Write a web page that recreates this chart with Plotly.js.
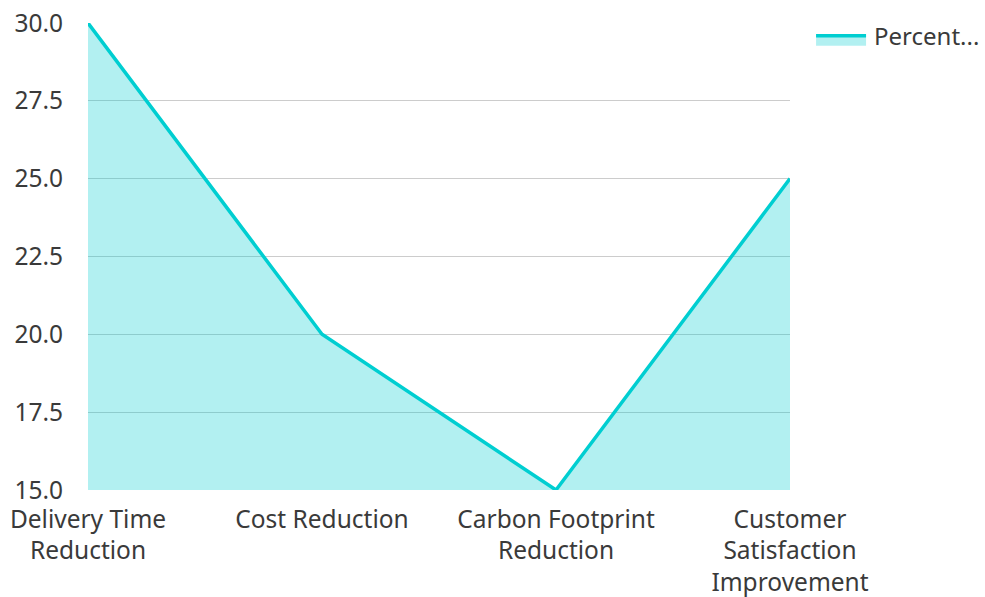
<!DOCTYPE html>
<html>
<head>
<meta charset="utf-8">
<script src="https://cdn.plot.ly/plotly-3.0.1.min.js"></script>
<style>html,body{margin:0;padding:0;background:#fff;}#chart{width:985px;height:597px;}</style>
</head>
<body>
<div id="chart"></div>
<script>
const categories = ["Delivery Time<br>Reduction", "Cost Reduction", "Carbon Footprint<br>Reduction", "Customer<br>Satisfaction<br>Improvement"];
const percentValues = [30, 20, 15, 25];
const seriesName = "Percent...";
const yTicks = [15, 17.5, 20, 22.5, 25, 27.5, 30];

const trace = {
  x: categories,
  y: percentValues,
  type: "scatter",
  mode: "lines",
  name: seriesName,
  fill: "tozeroy",
  fillcolor: "rgba(0,206,209,0.3)",
  line: {color: "#00CED1", width: 3.5},
  showlegend: true
};

const layout = {
  width: 985,
  height: 597,
  margin: {l: 88, r: 195, t: 23, b: 107, autoexpand: false},
  paper_bgcolor: "#fff",
  plot_bgcolor: "#fff",
  font: {family: "Noto Sans, Open Sans, sans-serif", size: 24, color: "#3a3a3a"},
  showlegend: true,
  legend: {x: 1.03, y: 1.02, xanchor: "left", yanchor: "top", itemwidth: 53, font: {size: 24, color: "#3a3a3a"}},
  xaxis: {
    type: "category",
    showgrid: false,
    zeroline: false,
    showline: false,
    ticks: "",
    range: [0, 3],
    automargin: false,
    ticklabelstandoff: 12,
    tickfont: {size: 24.5, color: "#3a3a3a"}
  },
  yaxis: {
    range: [15, 30],
    tickvals: yTicks,
    ticktext: yTicks.map(v => v.toFixed(1)),
    showgrid: true,
    gridcolor: "#cccccc",
    gridwidth: 1,
    zeroline: false,
    showline: false,
    ticks: "",
    automargin: false,
    ticklabelstandoff: 24,
    tickfont: {size: 24.5, color: "#3a3a3a"}
  }
};

Plotly.newPlot("chart", [trace], layout, {displayModeBar: false, staticPlot: true}).then(function (gd) {
  gd.querySelectorAll(".legend .legendlines path").forEach(function (p) { p.setAttribute("d", "M5,0h50"); });
  gd.querySelectorAll(".legend .legendfill path").forEach(function (p) { p.setAttribute("d", "M5,0h50v10h-50z"); });
});
</script>
</body>
</html>
